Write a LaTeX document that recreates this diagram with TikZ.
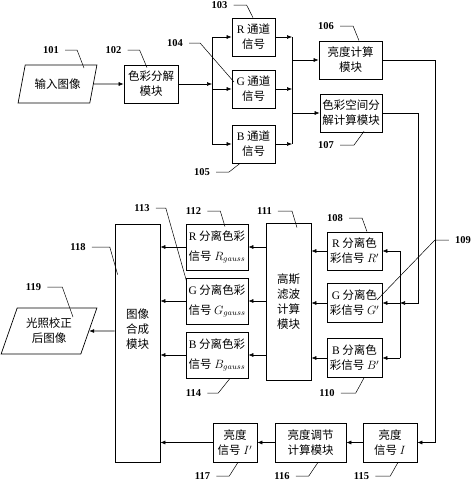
\documentclass[tikz,border=0pt]{standalone}
\usepackage{fontspec}
\setmainfont{Liberation Serif}
\newfontfamily\cjk{Noto Sans CJK SC}
\usetikzlibrary{
    arrows.meta,
    shapes.geometric,
    calc,
    positioning
}

\begin{document}
\begin{tikzpicture}[x=1pt, y=-1pt,
    >={Latex[length=5pt,width=4pt]},
    box/.style={draw, line width=0.7pt, align=center, inner sep=0.5pt, font=\cjk\fontsize{11.5}{15}\selectfont},
    io/.style={box, trapezium, trapezium stretches=true, trapezium left angle=66, trapezium right angle=114},
    num/.style={font=\rmfamily\bfseries\fontsize{10.5}{12}\selectfont, inner xsep=6pt, inner ysep=0pt},
    link/.style={line width=0.6pt},
    lead/.style={line width=0.5pt}]
                        \useasboundingbox (0,0) rectangle (474,482);

                        % blocks
                        \node[io, minimum width=79pt, minimum height=38pt] (inimg) at (57.5, 84) {输入图像};
                        \node[box, minimum width=54pt, minimum height=38pt] (b102) at (151, 84) {色彩分解\\模块};
                        \node[box, minimum width=43pt, minimum height=38pt] (bR) at (253.5, 37) {\textrm{R} 通道\\信号};
                        \node[box, minimum width=43pt, minimum height=38pt] (bG) at (253.5, 89) {\textrm{G} 通道\\信号};
                        \node[box, minimum width=43pt, minimum height=38pt] (bB) at (253.5, 144) {\textrm{B} 通道\\信号};
                        \node[box, minimum width=63pt, minimum height=38pt] (b106) at (350.5, 60) {亮度计算\\模块};
                        \node[box, minimum width=62pt, minimum height=38pt] (b107) at (351, 113) {色彩空间分\\解计算模块};
                        \node[box, minimum width=55pt, minimum height=38pt] (bRp) at (354.5, 251) {\textrm{R} 分离色\\彩信号 $R'$};
                        \node[box, minimum width=55pt, minimum height=39pt] (bGp) at (354.5, 303) {\textrm{G} 分离色\\彩信号 $G'$};
                        \node[box, minimum width=55pt, minimum height=39pt] (bBp) at (354.5, 358) {\textrm{B} 分离色\\彩信号 $B'$};
                        \node[box, minimum width=45pt, minimum height=157pt] (b111) at (288.5, 301.5) {高斯\\滤波\\计算\\模块};
                        \node[box, minimum width=62pt, minimum height=46pt] (b112) at (217, 247) {\textrm{R} 分离色彩\\[5pt]信号 $R_{gauss}$};
                        \node[box, minimum width=62pt, minimum height=46pt] (b113) at (217, 301) {\textrm{G} 分离色彩\\[5pt]信号 $G_{gauss}$};
                        \node[box, minimum width=62pt, minimum height=46pt] (b114) at (217, 355) {\textrm{B} 分离色彩\\[5pt]信号 $B_{gauss}$};
                        \node[box, minimum width=45pt, minimum height=238pt] (b118) at (137.5, 343) {图像\\合成\\模块\\[14pt]\mbox{}};
                        \node[io, minimum width=96pt, minimum height=46pt] (img119) at (49, 331) {光照校正\\后图像};
                        \node[box, minimum width=54pt, minimum height=39pt] (b115) at (390, 442.5) {亮度\\信号 $I$};
                        \node[box, minimum width=71pt, minimum height=39pt] (b116) at (310.5, 442.5) {亮度调节\\计算模块};
                        \node[box, minimum width=44pt, minimum height=39pt] (b117) at (235, 442.5) {亮度\\信号 $I'$};

                        % bus lines
                        \coordinate (bus1) at (212, 0);
                        \coordinate (bus2) at (292, 0);
                        \coordinate (bus3) at (400, 0);
                        \coordinate (bend1) at (418, 0);
                        \coordinate (bend2) at (435, 0);

                        \draw[link, ->] (inimg) -- (b102);
                        \draw[link, ->] (b102.east) -- (b102.east -| bus1);
                        \draw[link] (bR.west -| bus1) -- (bB.west -| bus1);
                        \draw[link, ->] (bR.west -| bus1) -- (bR.west);
                        \draw[link, ->] (bG.west -| bus1) -- (bG.west);
                        \draw[link, ->] (bB.west -| bus1) -- (bB.west);
                        \draw[link, ->] (bR.east) -- (bR.east -| bus2);
                        \draw[link, ->] (bG.east) -- (bG.east -| bus2);
                        \draw[link, ->] (bB.east) -- (bB.east -| bus2);
                        \draw[link] (bR.east -| bus2) -- (bB.east -| bus2);
                        \draw[link, ->] (b106.west -| bus2) -- (b106.west);
                        \draw[link, ->] (b107.west -| bus2) -- (b107.west);
                        \draw[link, ->] (b106.east) -- (b106.east -| bend2) |- (b115.east);
                        \draw[link, ->] (b107.east) -- (b107.east -| bend1) |- (bGp.east -| bus3);
                        \draw[link] (bRp.east -| bus3) -- (bBp.east -| bus3);
                        \draw[link, ->] (bRp.east -| bus3) -- (bRp.east);
                        \draw[link, ->] (bGp.east -| bus3) -- (bGp.east);
                        \draw[link, ->] (bBp.east -| bus3) -- (bBp.east);
                        \draw[link, ->] (bRp.west) -- (bRp.west -| b111.east);
                        \draw[link, ->] (bGp.west) -- (bGp.west -| b111.east);
                        \draw[link, ->] (bBp.west) -- (bBp.west -| b111.east);
                        \draw[link, ->] (b112.east -| b111.west) -- (b112.east);
                        \draw[link, ->] (b113.east -| b111.west) -- (b113.east);
                        \draw[link, ->] (b114.east -| b111.west) -- (b114.east);
                        \draw[link, ->] (b112.west) -- (b112.west -| b118.east);
                        \draw[link, ->] (b113.west) -- (b113.west -| b118.east);
                        \draw[link, ->] (b114.west) -- (b114.west -| b118.east);
                        \draw[link, ->] (b118.west |- img119) -- (img119);
                        \draw[link, ->] (b115) -- (b116);
                        \draw[link, ->] (b116) -- (b117);
                        \draw[link, ->] (b117.west) -- (b117.west -| b118.east);

                        % reference numbers
                        \node[num] (n101) at (51, 50) {101};
                        \node[num] (n102) at (113.5, 50) {102};
                        \node[num] (n103) at (219.5, 5) {103};
                        \node[num] (n104) at (175, 43) {104};
                        \node[num] (n105) at (202, 172) {105};
                        \node[num] (n106) at (326, 26) {106};
                        \node[num] (n107) at (326, 145) {107};
                        \node[num] (n108) at (335, 218) {108};
                        \node[num] (n109) at (463, 240) {109};
                        \node[num] (n110) at (327, 393) {110};
                        \node[num] (n111) at (264.5, 211) {111};
                        \node[num] (n112) at (193.5, 211) {112};
                        \node[num] (n113) at (142, 208) {113};
                        \node[num] (n114) at (193.5, 393) {114};
                        \node[num] (n115) at (361.5, 476) {115};
                        \node[num] (n116) at (282, 476) {116};
                        \node[num] (n117) at (202.5, 476) {117};
                        \node[num] (n118) at (78, 247) {118};
                        \node[num] (n119) at (33.5, 287) {119};

                        \draw[lead]
                        (n101.east) -- ++(12,0) -- ($(inimg.center)+(26.5,-16)$)
                        (n102.east) -- ++(12,0) -- ($(b102.north)+(-4,3)$)
                        (n103.east) -- ++(13,0) -- ($(bR.north)+(-0.5,0)$)
                        (n104.east) -- ++(11,0) -- ($(bG.center)+(-19.5,-7)$)
                        (n105.east) -- ++(13,0) -- ($(bB.south)+(-13.5,0)$)
                        (n106.east) -- ++(13,0) -- ($(b106.north)+(8.5,0)$)
                        (n107.east) -- ++(14,0) -- ($(b107.south)+(13,-1)$)
                        (n108.east) -- ++(13,0) -- ($(bRp.north)+(12.5,0)$)
                        (n109.west) -- ++(-14,0) -- ($(bGp.center)+(22.5,-3)$)
                        (n110.east) -- ++(15,0) -- ($(bBp.south)+(9.5,0)$)
                        (n111.east) -- ++(14,0) -- ($(b111.north)+(8.5,5)$)
                        (n112.east) -- ++(13,0) -- ($(b112.north)+(8,3)$)
                        (n113.east) -- ++(10,0) -- ($(b113.north west)+(1,4)$)
                        (n114.east) -- ++(11,0) -- ($(b114.south)+(13,0)$)
                        (n115.east) -- ++(15,0) -- ($(b115.south)+(8,0)$)
                        (n116.east) -- ++(13,0) -- ($(b116.south)+(7.5,0)$)
                        (n117.east) -- ++(13,0) -- ($(b117.south)+(3,0)$)
                        (n118.east) -- ++(18,0) -- ($(b118.north west)+(3,51)$)
                        (n119.east) -- ++(15,0) -- ($(img119.center)+(24,-14)$);
                    \end{tikzpicture}
\end{document}
